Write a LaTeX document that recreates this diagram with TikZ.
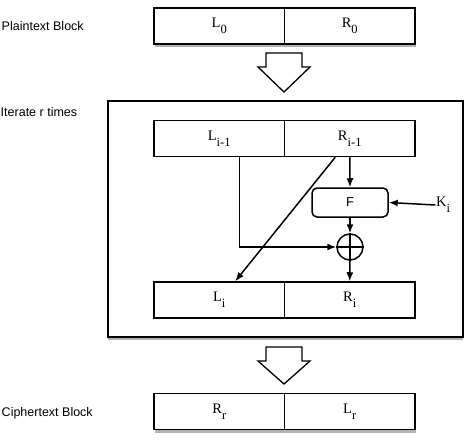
\documentclass[tikz,border=0pt]{standalone}
\usepackage{fontspec}
\setmainfont{Liberation Serif}
\newfontfamily\lblfont{Liberation Sans}
\usetikzlibrary{arrows.meta,shadows}

\begin{document}
\begin{tikzpicture}[x=1pt, y=-1pt, line width=1.5pt, >={Latex[length=9pt,width=7pt]}]
    \tikzstyle{half}=[rectangle, draw, minimum width=130.5pt, minimum height=36pt, inner sep=0pt, font=\fontsize{14.5}{15}\selectfont]
    \tikzstyle{shadowed}=[drop shadow={shadow xshift=0.5pt, shadow yshift=-3pt, opacity=0.6}, fill=white]
    \tikzstyle{label}=[anchor=west, inner sep=0pt, font=\lblfont\fontsize{12.5}{15}\selectfont]
    \tikzstyle{fbox}=[rectangle, draw, rounded corners=5pt, minimum width=76pt, minimum height=29pt, font=\lblfont\fontsize{13}{15}\selectfont]
    \tikzstyle{xor}=[circle, draw, minimum size=26pt, inner sep=0pt]
    \tikzstyle{bigarrow}=[draw, fill=white, line width=1.3pt]

    \useasboundingbox (0,0) rectangle (474,447);

    % Plaintext block
    \node[label] (plain) at (1,26) {Plaintext Block};
    \node[half, shadowed] (P-L) at (219.25,26) {L\raisebox{-0.4em}{\fontsize{12.5}{13}\selectfont 0}};
    \node[half, shadowed] (P-R) at (349.75,26) {R\raisebox{-0.4em}{\fontsize{12.5}{13}\selectfont 0}};

    % Upper block arrow
    \coordinate (A1) at (284,53);
    \path[bigarrow] ([xshift=-18pt]A1) -- ++(0,14) -- ++(-8,0) -- ++(26,25) -- ++(26,-25) -- ++(-8,0) -- ++(0,-14) -- cycle;

    % Round box
    \node[label] (iter) at (0,112) {Iterate r times};
    \node[rectangle, draw, shadowed, minimum width=355pt, minimum height=236pt, anchor=north west] (round) at (107,100) {};

    \node[half] (L-prev) at (219.25,138.5) {L\raisebox{-0.4em}{\fontsize{12.5}{13}\selectfont i-1}};
    \node[half] (R-prev) at (349.75,138.5) {R\raisebox{-0.4em}{\fontsize{12.5}{13}\selectfont i-1}};

    \node[fbox] (F) at (350,202.5) {F};
    \node[inner sep=0pt, font=\fontsize{14.5}{15}\selectfont] (K) at (443,205) {K\raisebox{-0.4em}{\fontsize{12.5}{13}\selectfont i}};
    \node[xor] (X) at (350,247) {};
    \draw (X.north) -- (X.south);
    \draw (X.west) -- (X.east);

    \node[half] (L-next) at (219.25,300) {L\raisebox{-0.4em}{\fontsize{12.5}{13}\selectfont i}};
    \node[half] (R-next) at (349.75,300) {R\raisebox{-0.4em}{\fontsize{12.5}{13}\selectfont i}};

    % Feistel connections
    \draw[->] (R-prev.south) -- (F.north);
    \draw[->] (K.west) -- (F.east);
    \draw[->] (F.south) -- (X.north);
    \draw[->] (X.south) -- (R-next.north);
    \draw[->] ([xshift=20pt]L-prev.south) |- (X.west);
    \draw[->] ([xshift=-14.5pt]R-prev.south) -- ([xshift=16pt]L-next.north);

    % Lower block arrow
    \coordinate (A2) at (284,347);
    \path[bigarrow] ([xshift=-18pt]A2) -- ++(0,14) -- ++(-8,0) -- ++(26,23) -- ++(26,-23) -- ++(-8,0) -- ++(0,-14) -- cycle;

    % Ciphertext block
    \node[label] (cipher) at (1,413) {Ciphertext Block};
    \node[half, shadowed] (C-R) at (219.25,411.5) {R\raisebox{-0.4em}{\fontsize{12.5}{13}\selectfont r}};
    \node[half, shadowed] (C-L) at (349.75,411.5) {L\raisebox{-0.4em}{\fontsize{12.5}{13}\selectfont r}};
\end{tikzpicture}
\end{document}
